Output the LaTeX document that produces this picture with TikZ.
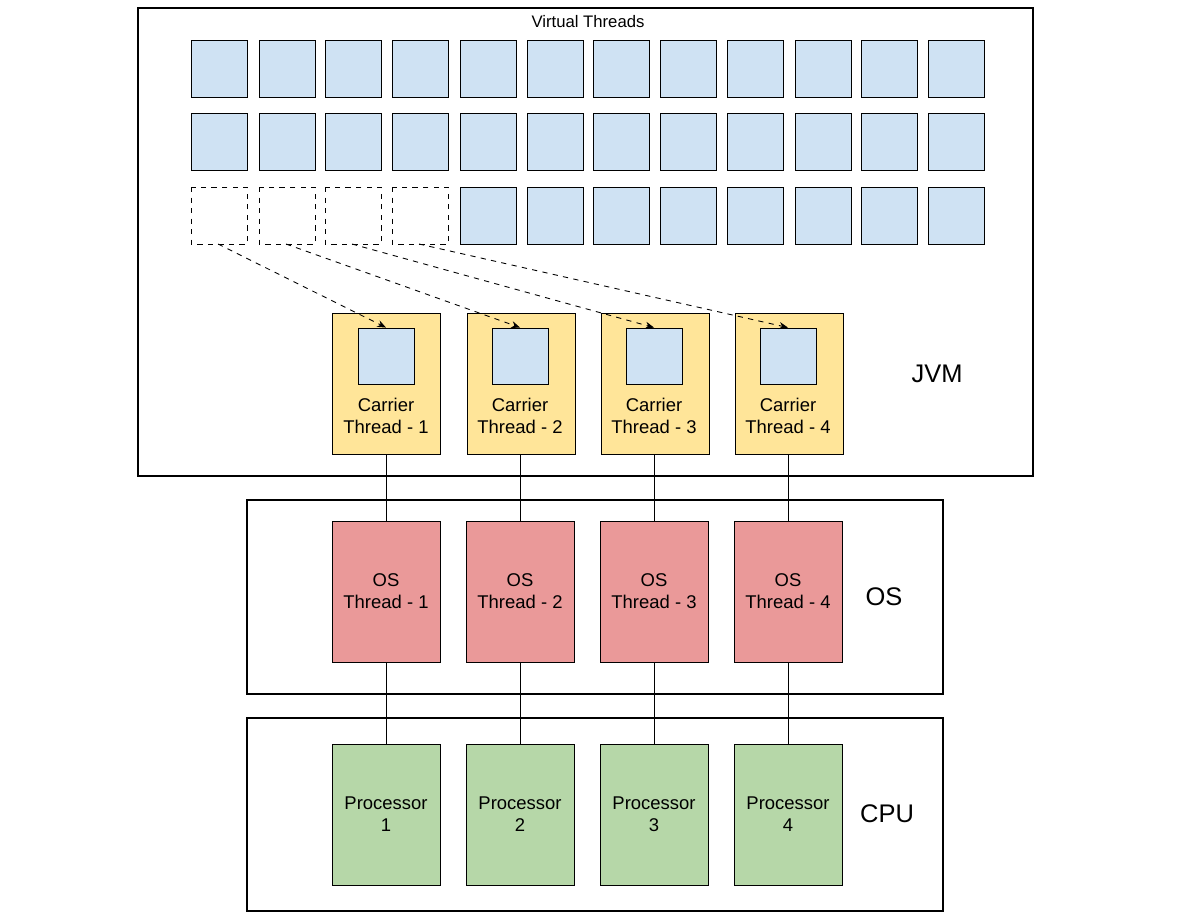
\documentclass[tikz,border=0pt]{standalone}
\usepackage{fontspec}
\setmainfont{Liberation Sans}
\usetikzlibrary{arrows.meta}
\definecolor{vb}{HTML}{CFE2F3}
\definecolor{cy}{HTML}{FFE599}
\definecolor{osr}{HTML}{EA9999}
\definecolor{pg}{HTML}{B6D7A8}
\begin{document}
\begin{tikzpicture}[x=0.02cm,y=-0.02cm,
  frame/.style={draw=black,line width=0.6pt},
  vt/.style={draw=black,fill=vb,line width=0.5pt},
  dvt/.style={draw=black,dashed,line width=0.5pt},
  txt/.style={font=\fontsize{10.5}{12.6}\selectfont,align=center},
  big/.style={font=\fontsize{14.5}{16}\selectfont},
  conn/.style={draw=black,line width=0.5pt},
  darr/.style={draw=black,dashed,line width=0.5pt,-{Stealth[length=5pt,width=4pt]}}]
\useasboundingbox (0,0) rectangle (1200,920);
\fill[white] (0,0) rectangle (1200,920);
% frames
\draw[frame] (138,8) rectangle (1033,476);
\draw[frame] (247,500) rectangle (943,694);
\draw[frame] (247,718) rectangle (943,911);
\node[font=\fontsize{9.5}{11}\selectfont] (vtl) at (588,22) {Virtual Threads};
\node[big] (jvm) at (937,374) {JVM};
\node[big] (osl) at (884,597) {OS};
\node[big] (cpu) at (887,814) {CPU};
% virtual thread grid
\foreach \x [count=\i] in {191,259,325,392,460,527,593,660,727,795,861,928}{
  \draw[vt] (\x,40) rectangle ++(56,57);
  \draw[vt] (\x,113) rectangle ++(56,57);
  \ifnum\i>4 \draw[vt] (\x,187) rectangle ++(56,57);
  \else \draw[dvt] (\x,187) rectangle ++(56,57);
    \coordinate (d\i) at (\x+27,244);
  \fi
}
\foreach \x/\c [count=\i] in {332/386,467/520,601/654,735/788}{
  \draw[draw=black,fill=cy,line width=0.5pt] (\x,313) rectangle ++(108,141);
  \node[vt,minimum width=55\pgflinewidth,inner sep=0pt,minimum size=0.02cm*56] (in\i) at (\c,356) {};
  \node[txt] (ct\i) at (\c,416) {Carrier\\Thread - \i};
  \coordinate (cb\i) at (\c,454);
  \node[draw=black,fill=osr,line width=0.5pt,minimum width=0.02cm*108,minimum height=0.02cm*141,inner sep=0pt] (os\i) at (\c,591.5) {};
  \node[txt] at (os\i) {OS\\Thread - \i};
  \node[draw=black,fill=pg,line width=0.5pt,minimum width=0.02cm*108,minimum height=0.02cm*141,inner sep=0pt] (p\i) at (\c,814.5) {};
  \node[txt] at (p\i) {Processor\\\i};
  \draw[conn] (cb\i) -- (os\i.north);
  \draw[conn] (os\i.south) -- (p\i.north);
  \draw[darr] (d\i) -- (in\i.north);
}
\end{tikzpicture}
\end{document}
